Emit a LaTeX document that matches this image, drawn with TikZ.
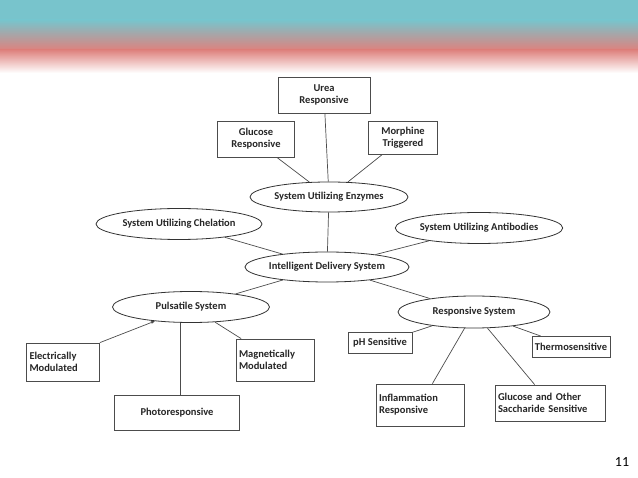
\documentclass[tikz,border=0pt]{standalone}
\usepackage{fontspec}
\setmainfont{Carlito}
\usetikzlibrary{shapes.geometric,arrows.meta}
\definecolor{teal1}{RGB}{120,196,204}
\definecolor{red1}{RGB}{222,130,126}
\begin{document}
\begin{tikzpicture}[x=1pt,y=-1pt,
  every node/.style={font=\bfseries\fontsize{10.5}{12}\selectfont, text=black!85},
  box/.style={draw=black!70, line width=0.8pt, rectangle, align=left, inner sep=2pt},
  ell/.style={draw=black!80, line width=0.8pt, ellipse, inner sep=0pt},
  ln/.style={draw=black!70, line width=0.7pt}]
\useasboundingbox (0,0) rectangle (638,478);
\fill[white] (0,0) rectangle (638,478);
\fill[teal1] (0,0) rectangle (638,20);
\shade[top color=teal1, bottom color=red1] (0,20) rectangle (638,50);
\shade[top color=red1, bottom color=white] (0,50) rectangle (638,73);
% nodes
\node[box, minimum width=92, minimum height=36, align=center] (urea) at (324,95) {Urea\\Responsive};
\node[box, minimum width=77, minimum height=36, align=center] (gluc) at (256,139) {Glucose\\Responsive};
\node[box, minimum width=69, minimum height=33, align=center] (morph) at (403,138) {Morphine\\Triggered};
\node[ell, minimum width=158, minimum height=30] (enz) at (329,197) {System Utilizing Enzymes};
\node[ell, minimum width=166, minimum height=31] (chel) at (179,224) {System Utilizing Chelation};
\node[ell, minimum width=154, minimum height=31] (anti) at (479,228) {System Utilizing Antibodies};
\node[ell, minimum width=145, minimum height=30] (ids) at (327,267) {Intelligent Delivery System};
\node[ell, minimum width=157, minimum height=31] (pul) at (191,307) {Pulsatile System};
\node[ell, minimum width=152, minimum height=32] (resp) at (474,312) {Responsive System};
\node[box, minimum width=73, minimum height=38, text width=67] (elec) at (63,362) {Electrically\\Modulated};
\node[box, minimum width=125, minimum height=35, align=center] (photo) at (177,413) {Photoresponsive};
\node[box, minimum width=78, minimum height=42, text width=72] (mag) at (275,360) {Magnetically\\Modulated};
\node[box, minimum width=64, minimum height=21] (ph) at (380,343) {pH Sensitive};
\node[box, minimum width=78, minimum height=21] (thermo) at (571,347) {Thermosensitive};
\node[box, minimum width=88, minimum height=42, text width=82] (infl) at (420,405) {Inflammation\\Responsive};
\node[box, minimum width=110, minimum height=36, text width=104] (gos) at (550,403) {Glucose and Other\\Saccharide Sensitive};
\node[font=\fontsize{14}{16}\selectfont, text=black] (num) at (622,462) {11};
% connectors
\draw[ln] (urea) -- (enz);
\draw[ln] (enz) -- (ids);
\draw[ln] (gluc.south east) ++(-18,0) coordinate (g1);
\draw[ln] (g1) -- (enz);
\draw[ln] (morph) -- (enz);
\draw[ln] (chel) -- (ids);
\draw[ln] (anti) -- (ids);
\draw[ln] (ids) -- (pul);
\draw[ln] (ids) -- (resp);
\draw[ln, -{Stealth[length=4pt,width=3pt]}] (elec.north east) -- (pul);
\draw[ln] (pul.south -| photo.north) ++(3,0) coordinate (p1);
\draw[ln] (p1) -- (p1 |- photo.north);
\draw[ln] (pul) -- (mag);
\draw[ln] (resp) -- (ph);
\draw[ln] (resp) -- (thermo);
\draw[ln] (resp) -- (infl);
\draw[ln] (resp) -- (gos);
\end{tikzpicture}
\end{document}
